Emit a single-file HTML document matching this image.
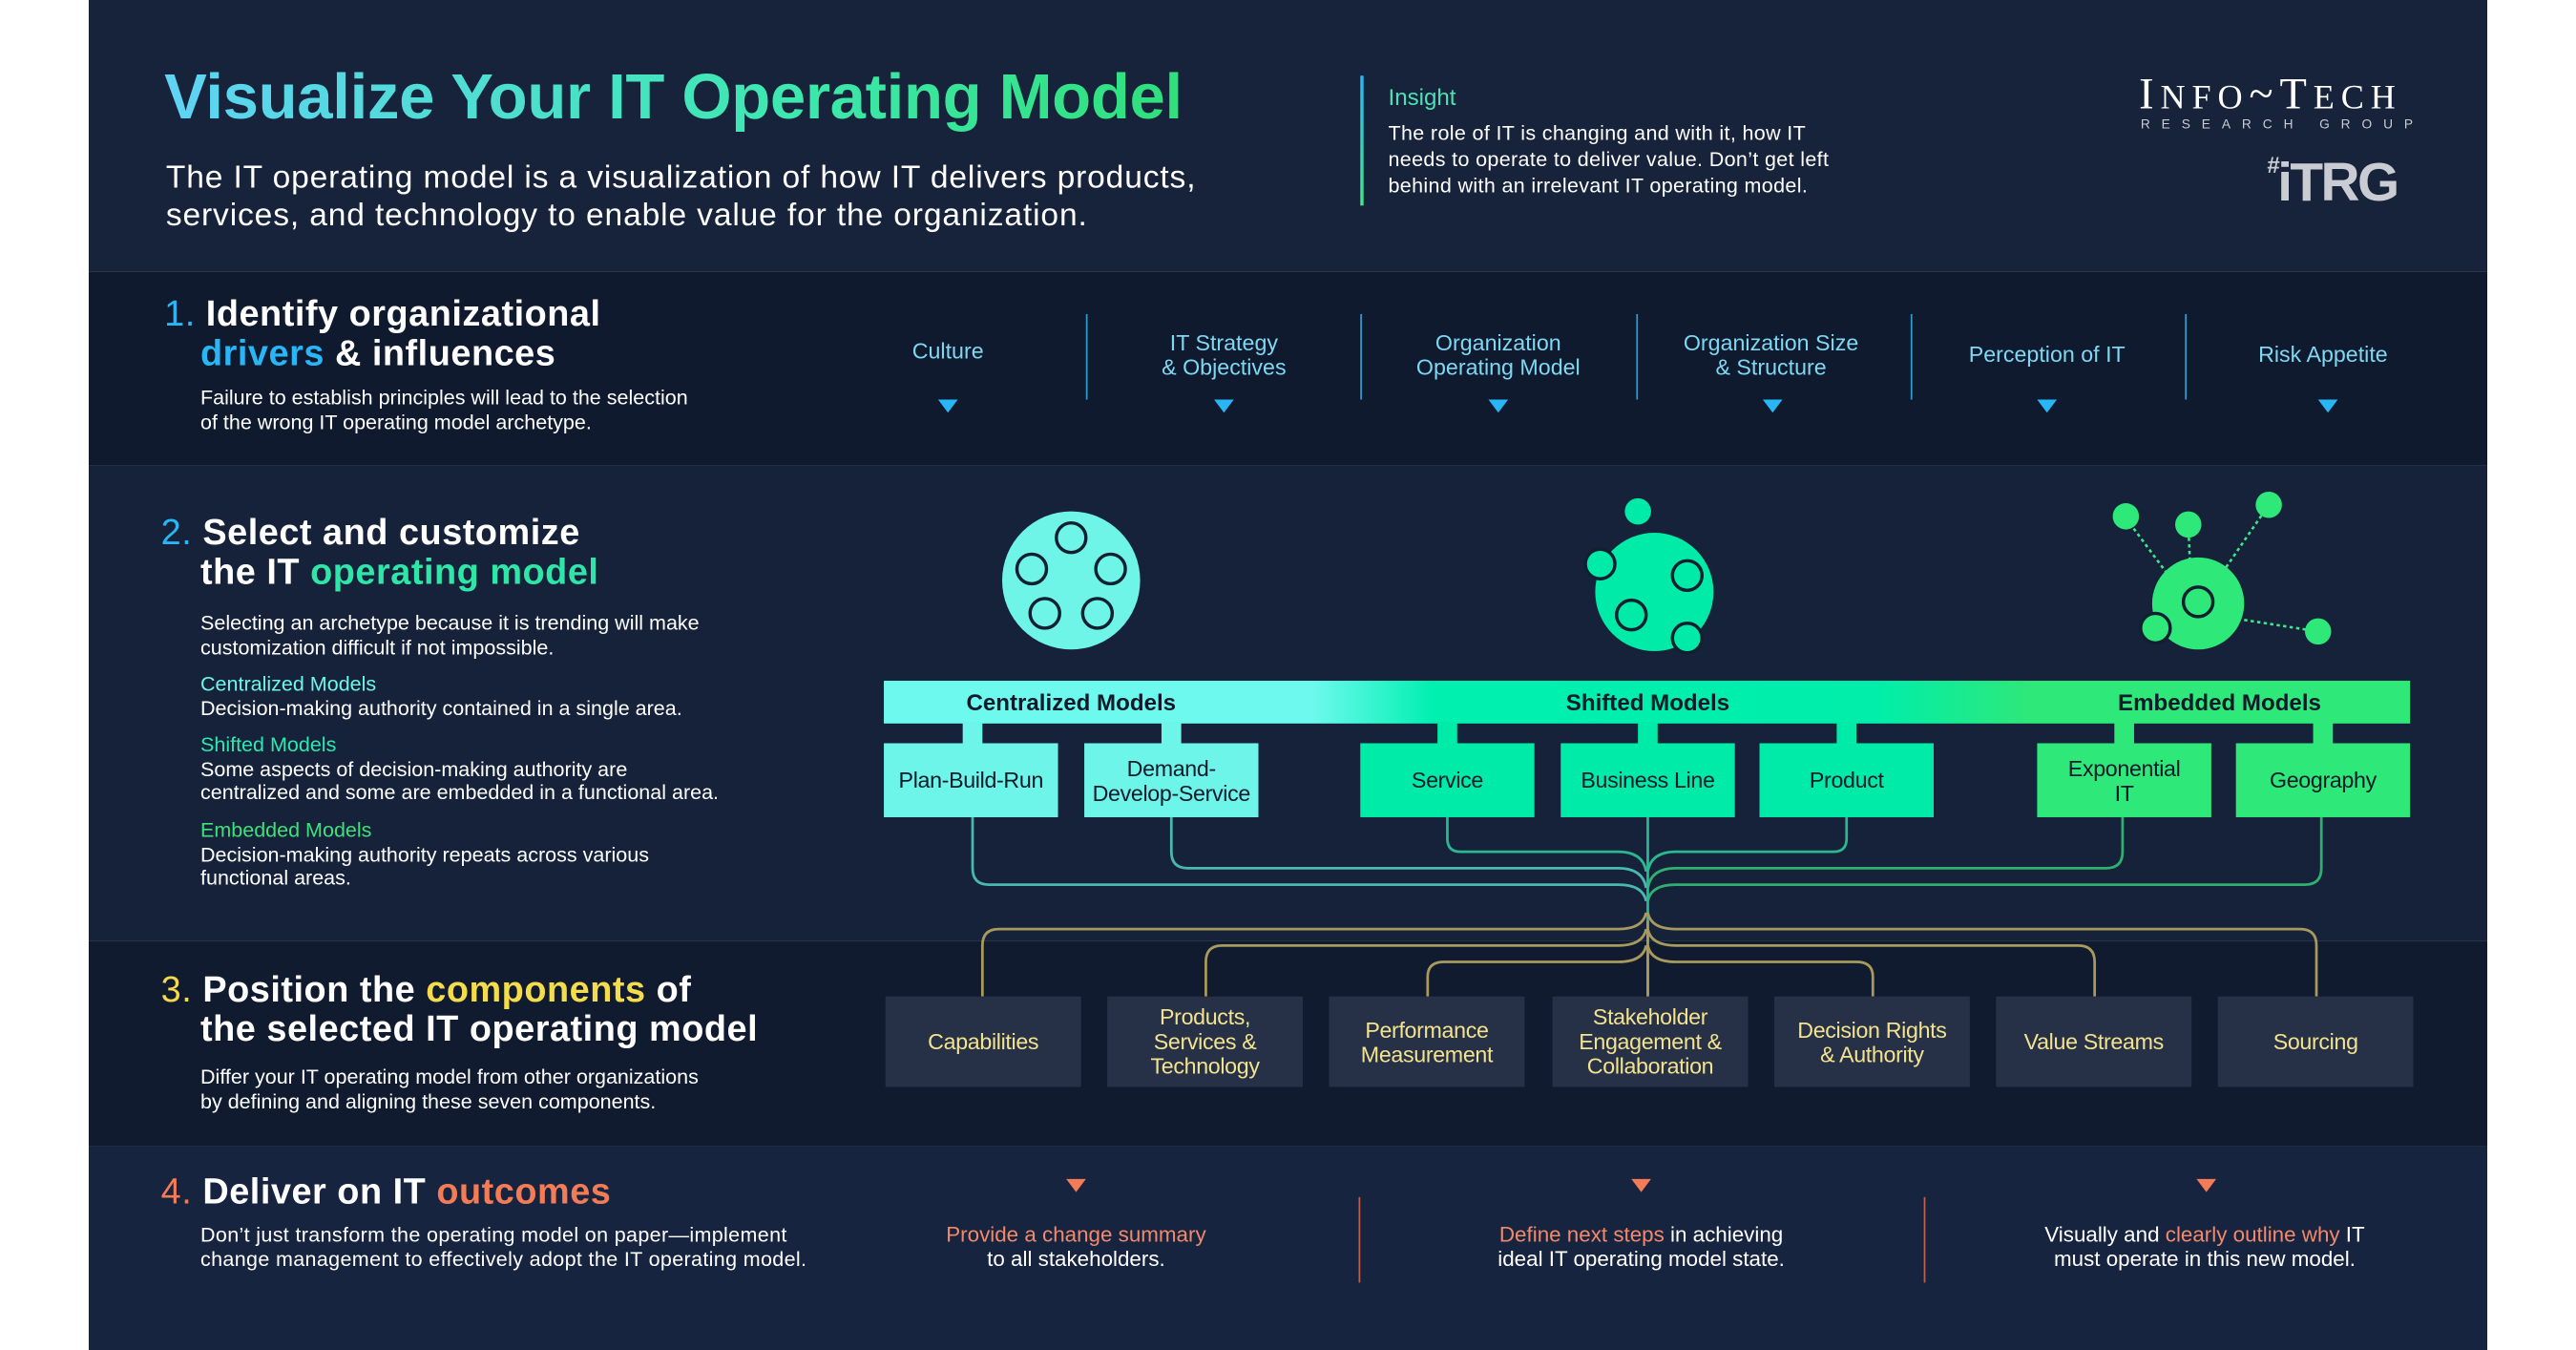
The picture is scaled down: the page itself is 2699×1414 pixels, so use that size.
<!DOCTYPE html>
<html><head><meta charset="utf-8"><style>
html,body{margin:0;padding:0;background:#fff;width:2699px;height:1414px;overflow:hidden}
#s{position:absolute;left:0;top:0;width:1568px;height:821px;transform:scale(1.72130,1.72230);transform-origin:0 0;font-family:"Liberation Sans",sans-serif}
.a{position:absolute;white-space:nowrap}
.c{text-align:center;transform:translateX(-50%)}
.band{position:absolute;left:54px;width:1460px}
.h{font-size:22px;line-height:24px;color:#fff;font-weight:bold;letter-spacing:0.3px}
.d{font-size:12.5px;line-height:14.5px;color:#fff;letter-spacing:0}
.drv{font-size:13.5px;line-height:15px;color:#7fd8f2}
.tri{position:absolute;width:0;height:0;border-left:6px solid transparent;border-right:6px solid transparent;border-top:8px solid #29b6f6}
.tri2{border-top-color:#f37b55}
.sep{position:absolute;width:1px;background:#2a9fd0}
.box{position:absolute;top:452px;height:45px;width:106px;display:flex;align-items:center;justify-content:center;text-align:center;font-size:13.5px;line-height:15px;color:#0d1a2a;letter-spacing:-0.2px}
.stub{position:absolute;top:439px;height:14px;width:12px}
.cmp{position:absolute;top:606px;height:55px;width:119px;background:#263047;display:flex;align-items:center;justify-content:center;text-align:center;font-size:13.5px;line-height:15px;color:#f3e38e;letter-spacing:-0.2px}
.o{color:#f3896a}
</style></head><body><div id="s">
<div class="band" style="top:0;height:165px;background:#17223b"></div>
<div class="band" style="top:165px;height:118px;background:#101a2f"></div>
<div class="band" style="top:283px;height:289px;background:#16223a"></div>
<div class="band" style="top:572px;height:125px;background:#111b30"></div>
<div class="band" style="top:697px;height:124px;background:#172440"></div>

<div class="a" style="left:100px;top:37px;font-size:39px;line-height:46px;font-weight:bold;letter-spacing:-0.2px;background:linear-gradient(90deg,#5fd3f5,#3ee8b0 60%,#2fe07a);-webkit-background-clip:text;background-clip:text;color:transparent">Visualize Your IT Operating Model</div>
<div class="a" style="left:101px;top:97px;font-size:19.5px;line-height:23px;color:#fff;letter-spacing:0.5px">The IT operating model is a visualization of how IT delivers products,<br>services, and technology to enable value for the organization.</div>

<div class="a" style="left:828px;top:46px;width:2px;height:79px;background:linear-gradient(#29b6f6,#3ee88a)"></div>
<div class="a" style="left:845px;top:51px;font-size:14px;color:#4ee0b5">Insight</div>
<div class="a d" style="left:845px;top:73px;line-height:16px;font-size:12.5px;letter-spacing:0.2px">The role of IT is changing and with it, how IT<br>needs to operate to deliver value. Don’t get left<br>behind with an irrelevant IT operating model.</div>

<div class="a" style="left:1302px;top:42px;font-family:'Liberation Serif',serif;font-size:27px;color:#fff;letter-spacing:4px">I<span style="font-size:21px">NFO</span>~T<span style="font-size:21px">ECH</span></div>
<div class="a" style="left:1303px;top:71px;font-size:8px;color:#c8ccd6;letter-spacing:6.9px">RESEARCH GROUP</div>
<div class="a" style="left:1380px;top:92px;font-size:33px;font-weight:bold;color:#c9ccd3;letter-spacing:-1.5px"><span style="font-size:14px;vertical-align:top">#</span>iTRG</div>

<!-- section 1 -->
<div class="a h" style="left:100px;top:179px"><span style="color:#29b6f6;font-weight:normal">1.</span> Identify organizational<br><span style="margin-left:22px;color:#29b6f6">drivers</span> &amp; influences</div>
<div class="a d" style="left:122px;top:235px">Failure to establish principles will lead to the selection<br>of the wrong IT operating model archetype.</div>
<div class="a drv c" style="left:577px;top:206px">Culture</div>
<div class="a drv c" style="left:745px;top:201px">IT Strategy<br>&amp; Objectives</div>
<div class="a drv c" style="left:912px;top:201px">Organization<br>Operating Model</div>
<div class="a drv c" style="left:1078px;top:201px">Organization Size<br>&amp; Structure</div>
<div class="a drv c" style="left:1246px;top:208px">Perception of IT</div>
<div class="a drv c" style="left:1414px;top:208px">Risk Appetite</div>
<div class="sep" style="left:661px;top:191px;height:52px"></div>
<div class="sep" style="left:828px;top:191px;height:52px"></div>
<div class="sep" style="left:996px;top:191px;height:52px"></div>
<div class="sep" style="left:1163px;top:191px;height:52px"></div>
<div class="sep" style="left:1330px;top:191px;height:52px"></div>
<div class="tri" style="left:571px;top:243px"></div>
<div class="tri" style="left:739px;top:243px"></div>
<div class="tri" style="left:906px;top:243px"></div>
<div class="tri" style="left:1073px;top:243px"></div>
<div class="tri" style="left:1240px;top:243px"></div>
<div class="tri" style="left:1411px;top:243px"></div>

<!-- section 2 -->
<div class="a h" style="left:98px;top:312px"><span style="color:#29b6f6;font-weight:normal">2.</span> Select and customize<br><span style="margin-left:24px">the IT </span><span style="color:#2ee6a8">operating model</span></div>
<div class="a d" style="left:122px;top:372px">Selecting an archetype because it is trending will make<br>customization difficult if not impossible.</div>
<div class="a d" style="left:122px;top:409px"><span style="color:#6ef5ea">Centralized Models</span><br>Decision-making authority contained in a single area.</div>
<div class="a d" style="left:122px;top:446px"><span style="color:#2be8b0">Shifted Models</span><br>Some aspects of decision-making authority are<br>centralized and some are embedded in a functional area.</div>
<div class="a d" style="left:122px;top:498px"><span style="color:#3ee07a">Embedded Models</span><br>Decision-making authority repeats across various<br>functional areas.</div>

<svg class="a" style="left:0;top:0" width="1568" height="821">
<g fill="none" stroke-width="2.5">
<circle cx="652" cy="353" r="42" fill="#6ef5e8" stroke="none"/>
<g stroke="#102030" stroke-width="2"><circle cx="652" cy="327" r="9"/><circle cx="628" cy="346" r="9"/><circle cx="676" cy="346" r="9"/><circle cx="636" cy="373" r="9"/><circle cx="668" cy="373" r="9"/></g>
<circle cx="1007" cy="360" r="36" fill="#00eaa8" stroke="none"/>
<circle cx="997" cy="311" r="8" fill="#00eaa8" stroke="none"/>
<circle cx="974" cy="343" r="9" fill="#00eaa8" stroke="#102030" stroke-width="2"/>
<circle cx="1027" cy="388" r="9" fill="#00eaa8" stroke="#102030" stroke-width="2"/>
<g stroke="#102030" stroke-width="2"><circle cx="1027" cy="350" r="9"/><circle cx="993" cy="374" r="9"/></g>
<g stroke="#3ee88a" stroke-width="1.5" stroke-dasharray="2 2"><line x1="1294" y1="315" x2="1320" y2="350"/><line x1="1332" y1="319" x2="1333" y2="342"/><line x1="1381" y1="307" x2="1355" y2="345"/><line x1="1366" y1="377" x2="1411" y2="384"/></g>
<circle cx="1338" cy="367" r="28" fill="#2ee87a" stroke="none"/>
<circle cx="1338" cy="366" r="9" stroke="#102030" stroke-width="2"/>
<circle cx="1312" cy="382" r="9" fill="#2ee87a" stroke="#102030" stroke-width="2"/>
<circle cx="1294" cy="314" r="8" fill="#2ee87a" stroke="none"/>
<circle cx="1332" cy="319" r="8" fill="#2ee87a" stroke="none"/>
<circle cx="1381" cy="307" r="8" fill="#2ee87a" stroke="none"/>
<circle cx="1411" cy="384" r="8" fill="#2ee87a" stroke="none"/>
</g>
<defs><linearGradient id="bg" x1="0" x2="1"><stop offset="0" stop-color="#6ef9ee"/><stop offset="0.28" stop-color="#6ef9ee"/><stop offset="0.36" stop-color="#00f0b0"/><stop offset="0.65" stop-color="#00eeaa"/><stop offset="0.75" stop-color="#2ee87a"/><stop offset="1" stop-color="#2ee87a"/></linearGradient></defs>
<rect x="538" y="414" width="929" height="26" fill="url(#bg)"/>
<g fill="none" stroke-width="1.6">
<path d="M592,497 V528 Q592,538 602,538 H985 Q1000,538 1002,548" stroke="#4ab8b0"/>
<path d="M713,497 V518 Q713,528 723,528 H985 Q1000,528 1002,540" stroke="#4ab8b0"/>
<path d="M881,497 V510 Q881,518 889,518 H985 Q1000,518 1002,530" stroke="#2ab890"/>
<path d="M1124,497 V510 Q1124,518 1116,518 H1020 Q1005,518 1003,530" stroke="#2ab890"/>
<path d="M1292,497 V518 Q1292,528 1282,528 H1020 Q1005,528 1003,540" stroke="#30b070"/>
<path d="M1413,497 V528 Q1413,538 1403,538 H1020 Q1005,538 1003,548" stroke="#30b070"/>
<path d="M1003,497 V606" stroke="#2ab890"/>
<g stroke="#a89a5c">
<path d="M598,606 V575 Q598,565 608,565 H985 Q1000,565 1002,555"/>
<path d="M1410,606 V575 Q1410,565 1400,565 H1020 Q1005,565 1003,555"/>
<path d="M734,606 V585 Q734,575 744,575 H985 Q1000,575 1002,565"/>
<path d="M1275,606 V585 Q1275,575 1265,575 H1020 Q1005,575 1003,565"/>
<path d="M869,606 V594 Q869,585 879,585 H985 Q1000,585 1002,575"/>
<path d="M1140,606 V594 Q1140,585 1130,585 H1020 Q1005,585 1003,575"/>
<path d="M1003,560 V606"/>
</g>
</g>
</svg>
<div class="stub" style="left:586px;background:#6ef5ea"></div>
<div class="stub" style="left:707px;background:#6ef5ea"></div>
<div class="stub" style="left:875px;background:#00eaa8"></div>
<div class="stub" style="left:997px;background:#00eaa8"></div>
<div class="stub" style="left:1118px;background:#00eaa8"></div>
<div class="stub" style="left:1287px;background:#2ee87a"></div>
<div class="stub" style="left:1408px;background:#2ee87a"></div>
<div class="a" style="left:652px;top:419px;font-size:14px;font-weight:bold;color:#0d1a2a;transform:translateX(-50%)">Centralized Models</div>
<div class="a" style="left:1003px;top:419px;font-size:14px;font-weight:bold;color:#0d1a2a;transform:translateX(-50%)">Shifted Models</div>
<div class="a" style="left:1351px;top:419px;font-size:14px;font-weight:bold;color:#0d1a2a;transform:translateX(-50%)">Embedded Models</div>
<div class="box" style="left:538px;background:#6ef5ea">Plan-Build-Run</div>
<div class="box" style="left:660px;background:#6ef5ea">Demand-<br>Develop-Service</div>
<div class="box" style="left:828px;background:#00eaa8">Service</div>
<div class="box" style="left:950px;background:#00eaa8">Business Line</div>
<div class="box" style="left:1071px;background:#00eaa8">Product</div>
<div class="box" style="left:1240px;background:#2ee87a">Exponential<br>IT</div>
<div class="box" style="left:1361px;background:#2ee87a">Geography</div>

<!-- section 3 -->
<div class="a h" style="left:98px;top:590px"><span style="color:#f5d94a;font-weight:normal">3.</span> Position the <span style="color:#f5dc4a">components</span> of<br><span style="margin-left:24px">the selected IT operating model</span></div>
<div class="a d" style="left:122px;top:648px">Differ your IT operating model from other organizations<br>by defining and aligning these seven components.</div>
<div class="cmp" style="left:539px">Capabilities</div>
<div class="cmp" style="left:674px">Products,<br>Services &amp;<br>Technology</div>
<div class="cmp" style="left:809px">Performance<br>Measurement</div>
<div class="cmp" style="left:945px">Stakeholder<br>Engagement &amp;<br>Collaboration</div>
<div class="cmp" style="left:1080px">Decision Rights<br>&amp; Authority</div>
<div class="cmp" style="left:1215px">Value Streams</div>
<div class="cmp" style="left:1350px">Sourcing</div>

<!-- section 4 -->
<div class="a h" style="left:98px;top:713px"><span style="color:#f37b55;font-weight:normal">4.</span> Deliver on IT <span style="color:#f37b55">outcomes</span></div>
<div class="a d" style="left:122px;top:744px;letter-spacing:0.2px">Don’t just transform the operating model on paper—implement<br>change management to effectively adopt the IT operating model.</div>
<div class="tri tri2" style="left:649px;top:717px"></div>
<div class="tri tri2" style="left:993px;top:717px"></div>
<div class="tri tri2" style="left:1337px;top:717px"></div>
<div class="sep" style="left:827px;top:728px;height:52px;background:#c0604a"></div>
<div class="sep" style="left:1171px;top:728px;height:52px;background:#c0604a"></div>
<div class="a d c" style="left:655px;top:743px;font-size:13px;line-height:15px"><span class="o">Provide a change summary</span><br>to all stakeholders.</div>
<div class="a d c" style="left:999px;top:743px;font-size:13px;line-height:15px"><span class="o">Define next steps</span> in achieving<br>ideal IT operating model state.</div>
<div class="a d c" style="left:1342px;top:743px;font-size:13px;line-height:15px">Visually and <span class="o">clearly outline why</span> IT<br>must operate in this new model.</div>
</div></body></html>
